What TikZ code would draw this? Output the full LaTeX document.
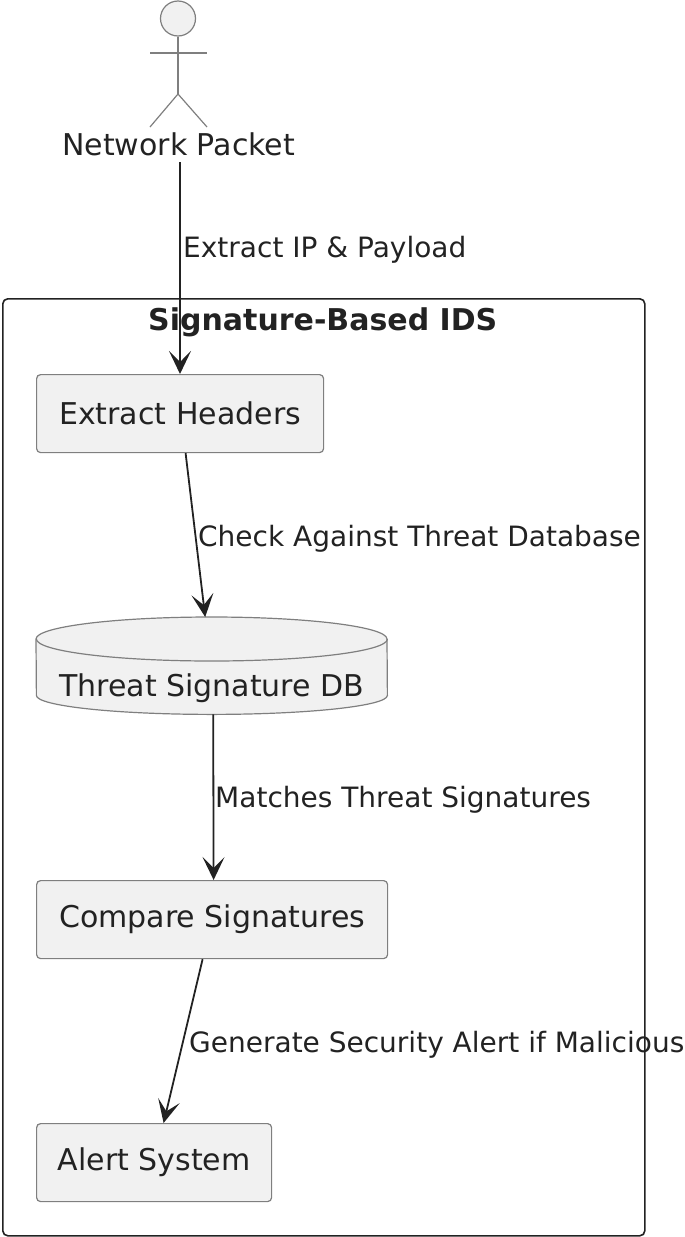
\documentclass[tikz,border=0pt]{standalone}
\usepackage{fontspec}
\usepackage{xcolor}
\setmainfont{DejaVu Sans}
\usetikzlibrary{arrows.meta}
\definecolor{boxfill}{HTML}{F1F1F1}
\definecolor{boxline}{HTML}{7F7F7F}
\definecolor{inkdark}{HTML}{222222}

\begin{document}
\begin{tikzpicture}[
    x=1pt, y=-1pt,
    font=\fontsize{30}{35}\selectfont,
    text=inkdark,
    block/.style={rectangle, draw=boxline, fill=boxfill, line width=1.2pt, rounded corners=4pt, minimum height=78pt, inner sep=0pt, anchor=north west},
    store/.style={rectangle, minimum width=351pt, minimum height=97pt, inner sep=0pt, anchor=north west},
    frame/.style={rectangle, draw=inkdark, line width=1.6pt, rounded corners=5pt, minimum width=642pt, minimum height=937pt, inner sep=0pt, anchor=north west},
    tag/.style={anchor=base west, inner sep=0pt},
    linktag/.style={tag, font=\fontsize{28}{33}\selectfont},
    stick/.style={draw=boxline, line width=1.2pt},
    line/.style={-{Stealth[length=23pt, width=22pt, inset=11pt]}, draw=inkdark, line width=1.8pt}
]
\useasboundingbox (0,0) rectangle (685,1237);

% Frame
\node[frame] (ids) at (2,298) {};
\node[tag, font=\fontsize{30}{35}\selectfont\bfseries] (title) at (148,330) {Signature-Based IDS};

% Actor
\node[circle, stick, fill=boxfill, minimum size=35pt, inner sep=0pt] (head) at (178,18.5) {};
\coordinate (hip) at (178,94);
\draw[stick] (head.south) -- (hip);
\draw[stick] (150,53) -- (207,53);
\draw[stick] (150,127) -- (hip) -- (207,127);
\node[tag] (packet) at (62,155) {Network Packet};

% Nodes
\node[block, minimum width=287pt] (headers) at (36,374) {Extract Headers};
\node[store] (db) at (36,617) {};
\draw[stick, fill=boxfill] ([yshift=-22pt]db.north west) arc (180:0:175.5pt and 22pt)
    -- ([yshift=19pt]db.south east) arc (360:180:175.5pt and 19pt) -- cycle;
\draw[stick] ([yshift=-22pt]db.north east) arc (0:-180:175.5pt and 22pt);
\node[tag] (dbname) at (59,696) {Threat Signature DB};
\node[block, minimum width=351pt] (compare) at (36,880) {Compare Signatures};
\node[block, minimum width=235pt] (alert) at (36,1123) {Alert System};

% Connections
\coordinate (start) at (180,162);
\draw[line] (start) -- (start |- headers.north);
\draw[line] ([xshift=5.5pt]headers.south) -- ([xshift=-6.5pt]db.north);
\draw[line] ([xshift=1.5pt]db.south) -- ([xshift=1.5pt]compare.north);
\draw[line] ([xshift=-9.5pt]compare.south) -- ([xshift=9.5pt]alert.north);

% Labels
\node[linktag] (lextract) at (183,257) {Extract IP \& Payload};
\node[linktag] (lcheck) at (198,546) {Check Against Threat Database};
\node[linktag] (lmatch) at (215,807) {Matches Threat Signatures};
\node[linktag] (lalert) at (189,1052) {Generate Security Alert if Malicious};

\end{tikzpicture}
\end{document}
